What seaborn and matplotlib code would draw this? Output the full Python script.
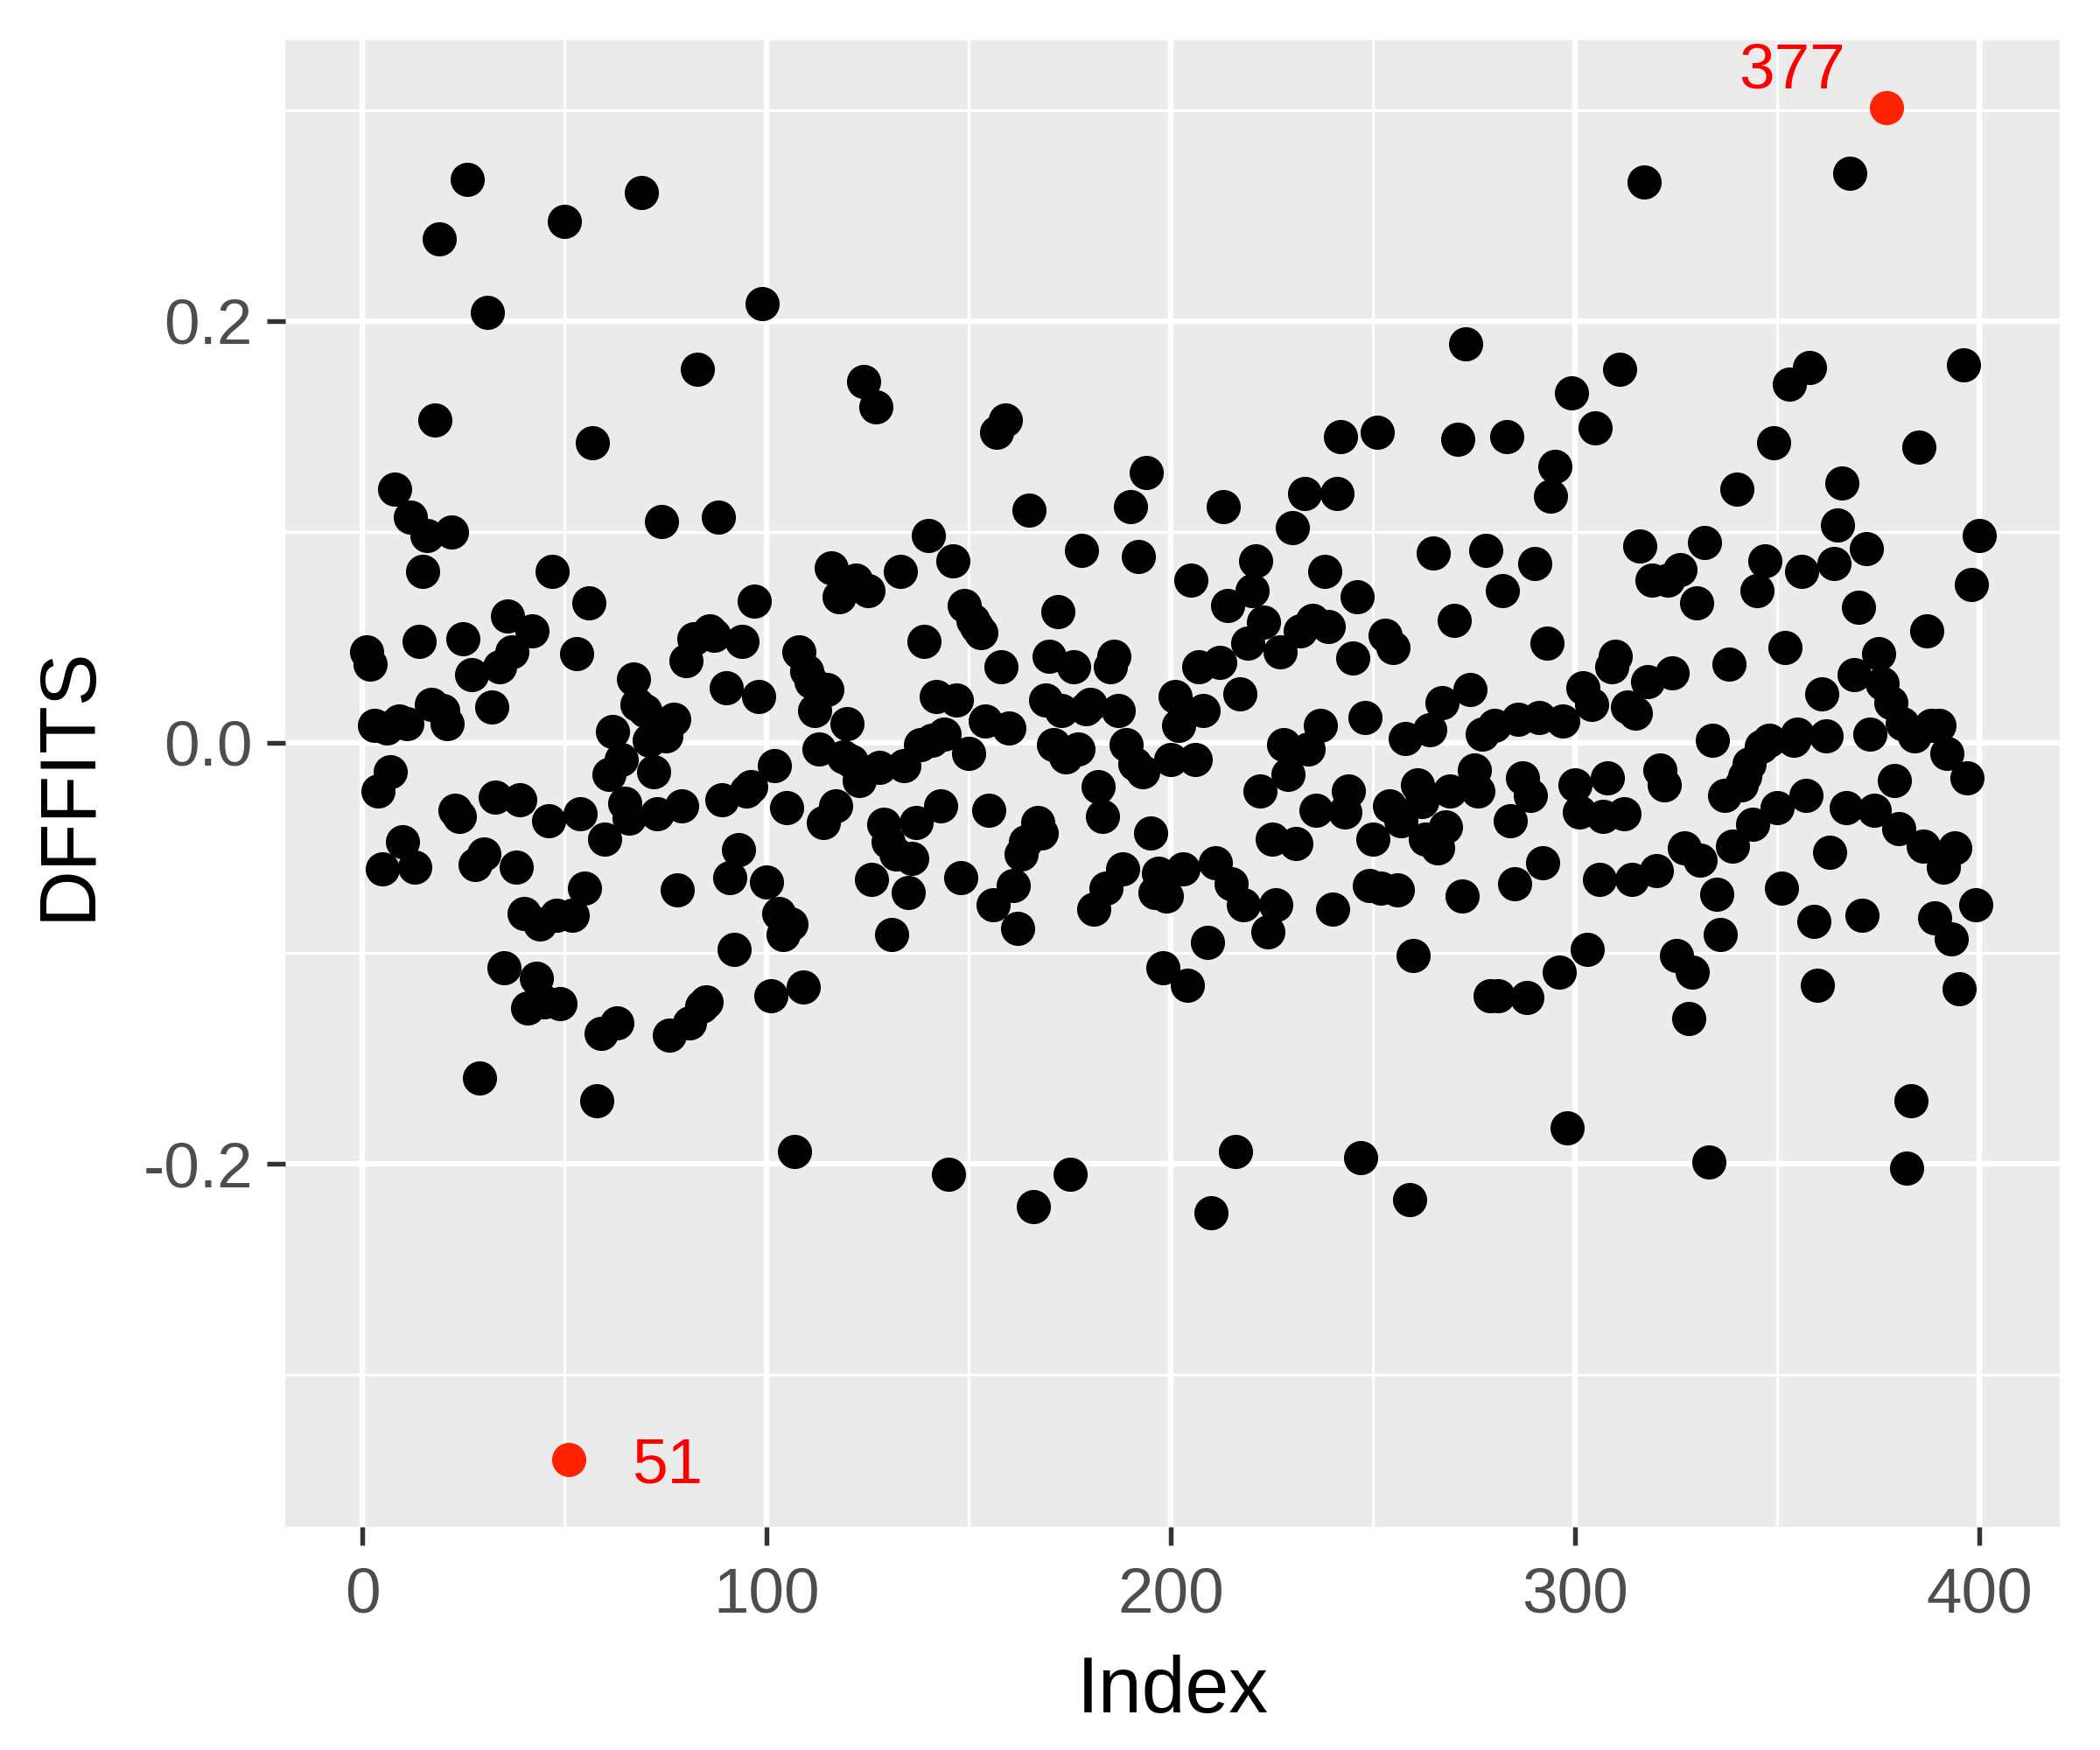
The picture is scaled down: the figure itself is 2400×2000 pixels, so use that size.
import seaborn as sns
import matplotlib.pyplot as plt
import matplotlib.ticker as mticker
import numpy as np
import pandas as pd

dffits = [
    0.043, 0.037, 0.008, -0.023, -0.060, 0.007, -0.014, 0.120, 0.010, -0.047,      # 1-10
    0.009, 0.107, -0.059, 0.048, 0.081, 0.098, 0.018, 0.153, 0.239, 0.015,        # 11-20
    0.009, 0.100, -0.032, -0.035, 0.049, 0.267, 0.032, -0.058, -0.159, -0.053,     # 21-30
    0.204, 0.017, -0.026, 0.036, -0.107, 0.060, 0.043, -0.059, -0.027, -0.081,    # 31-40
    -0.126, 0.053, -0.112, -0.086, -0.123, -0.037, 0.081, -0.082, -0.124, 0.247,  # 41-50
    -0.340, -0.082, 0.042, -0.034, -0.069, 0.066, 0.142, -0.170, -0.138, -0.046,  # 51-60
    -0.015, 0.005, -0.133, -0.008, -0.029, -0.036, 0.030, 0.018, 0.261, 0.015,    # 61-70
    0.001, -0.014, -0.034, 0.105, 0.003, -0.139, 0.011, -0.070, -0.030, 0.039,    # 71-80
    -0.133, 0.049, 0.177, -0.125, -0.123, 0.053, 0.051, 0.107, -0.027, 0.026,     # 81-90
    -0.064, -0.098, -0.051, 0.048, -0.023, -0.021, 0.067, 0.022, 0.208, -0.066,   # 91-100
    -0.120, -0.011, -0.081, -0.091, -0.031, -0.086, -0.194, 0.043, -0.116, 0.034, # 101-110
    0.029, 0.015, -0.003, -0.038, 0.025, 0.083, -0.030, 0.069, -0.007, 0.009,     # 111-120
    -0.009, 0.077, -0.018, 0.171, 0.072, -0.065, 0.159, -0.012, -0.039, -0.047,   # 121-130
    -0.091, -0.053, 0.081, -0.011, -0.071, -0.055, -0.038, -0.001, 0.048, 0.098,  # 131-140
    0.001, 0.022, -0.030, 0.004, -0.205, 0.086, 0.020, -0.064, 0.065, -0.005,     # 141-150
    0.058, 0.055, 0.052, 0.010, -0.032, -0.077, 0.147, 0.036, 0.153, 0.007,       # 151-160
    -0.068, -0.088, -0.053, -0.047, 0.110, -0.220, -0.038, -0.043, 0.020, 0.041,  # 161-170
    -0.001, 0.062, 0.015, -0.007, -0.205, 0.036, -0.003, 0.091, 0.016, 0.018,     # 171-180
    -0.079, -0.021, -0.035, -0.069, 0.036, 0.041, 0.015, -0.060, -0.001, 0.112,   # 181-190
    -0.010, 0.088, -0.014, 0.128, -0.043, -0.071, -0.062, -0.107, -0.073, -0.008, # 191-200
    0.022, 0.008, -0.060, -0.115, 0.077, -0.008, 0.036, 0.015, -0.095, -0.223,    # 201-210
    -0.057, 0.038, 0.112, 0.065, -0.067, -0.194, 0.023, -0.077, 0.047, 0.072,     # 211-220
    0.086, -0.023, 0.057, -0.090, -0.046, -0.077, 0.043, -0.001, -0.015, 0.102,   # 221-230
    -0.048, 0.053, 0.118, -0.003, 0.058, -0.032, 0.008, 0.081, 0.055, -0.079,     # 231-240
    0.118, 0.145, -0.033, -0.023, 0.040, 0.069, -0.197, 0.012, -0.068, -0.046,    # 241-250
    0.147, -0.069, 0.051, -0.030, 0.045, -0.070, -0.037, 0.002, -0.217, -0.101,   # 251-260
    -0.020, -0.028, -0.046, 0.006, 0.090, -0.050, 0.019, -0.040, -0.023, 0.058,   # 261-270
    0.144, -0.073, 0.189, 0.025, -0.013, -0.023, 0.004, 0.091, -0.120, 0.008,     # 271-280
    -0.120, 0.072, 0.145, -0.037, -0.067, 0.011, -0.017, -0.121, -0.025, 0.085,   # 281-290
    0.012, -0.057, 0.047, 0.117, 0.131, -0.109, 0.010, -0.183, 0.166, -0.020,     # 291-300
    -0.033, 0.026, -0.098, 0.018, 0.149, -0.065, -0.035, -0.017, 0.036, 0.041,    # 301-310
    0.177, -0.034, 0.017, -0.065, 0.014, 0.093, 0.266, 0.029, 0.077, -0.061,      # 311-320
    -0.013, -0.020, 0.077, 0.033, -0.101, 0.082, -0.050, -0.131, -0.109, 0.066,   # 321-330
    -0.056, 0.095, -0.199, 0.001, -0.072, -0.091, -0.025, 0.037, -0.049, 0.120,   # 331-340
    -0.020, -0.016, -0.010, -0.039, 0.072, -0.002, 0.086, 0.001, 0.142, -0.031,   # 341-350
    -0.069, 0.045, 0.170, 0.001, 0.004, 0.081, -0.025, 0.178, -0.085, -0.115,     # 351-360
    0.023, 0.003, -0.052, 0.085, 0.103, 0.123, -0.031, 0.270, 0.032, 0.064,       # 361-370
    -0.082, 0.092, 0.004, -0.032, 0.042, 0.028, 0.301, 0.019, -0.018, -0.041,     # 371-380
    0.009, -0.202, -0.170, 0.003, 0.140, -0.049, 0.053, 0.008, -0.083, 0.008,     # 381-390
    -0.059, -0.005, -0.093, -0.050, -0.117, 0.179, -0.017, 0.075, -0.077, 0.098,  # 391-400
]
index = np.arange(1, len(dffits) + 1)

# observations flagged in red, with their label offsets (points)
flagged = [51, 377]
label_offset = {51: (27, -2), 377: (-26, 10)}

df = pd.DataFrame({'Index': index, 'DFFITS': dffits})
df['flag'] = df['Index'].isin(flagged)

sns.set_theme(style='darkgrid', rc={
    'axes.facecolor': '#EBEBEB',
    'figure.facecolor': 'white',
    'grid.color': 'white',
    'axes.unicode_minus': False,
})
plt.rcParams['font.family'] = ['Liberation Sans', 'DejaVu Sans']

fig, ax = plt.subplots(figsize=(8, 20 / 3), dpi=300)
fig.subplots_adjust(left=0.136, right=0.981, top=0.977, bottom=0.1275)

sns.scatterplot(data=df[~df['flag']], x='Index', y='DFFITS', color='black',
                s=88, linewidth=0, ax=ax, zorder=3)
sns.scatterplot(data=df[df['flag']], x='Index', y='DFFITS', color='#ff2200',
                s=88, linewidth=0, ax=ax, zorder=3)

for _, r in df[df['flag']].iterrows():
    ax.annotate(str(r['Index']), (r['Index'], r['DFFITS']),
                xytext=label_offset[r['Index']], textcoords='offset points',
                ha='center', va='center', color='red', fontsize=17.5)

# ggplot-like 5% expansion
xlo, xhi = index.min(), index.max()
ylo, yhi = min(dffits), max(dffits)
ax.set_xlim(xlo - 0.05 * (xhi - xlo), xhi + 0.05 * (xhi - xlo))
ax.set_ylim(ylo - 0.05 * (yhi - ylo), yhi + 0.05 * (yhi - ylo))

ax.set_xticks([0, 100, 200, 300, 400])
ax.set_xticks([50, 150, 250, 350], minor=True)
ax.set_yticks([-0.2, 0.0, 0.2])
ax.set_yticks([-0.3, -0.1, 0.1, 0.3], minor=True)
ax.yaxis.set_major_formatter(mticker.FormatStrFormatter('%.1f'))

ax.grid(which='major', color='white', linewidth=1.5)
ax.grid(which='minor', color='white', linewidth=0.75)
ax.set_axisbelow(True)
for sp in ax.spines.values():
    sp.set_visible(False)

ax.tick_params(which='major', length=5, width=1.3, color='#333333',
               labelsize=17.5, labelcolor='#4D4D4D', pad=4,
               bottom=True, left=True)
ax.tick_params(axis='x', which='major', pad=6)
ax.tick_params(which='minor', length=0)

ax.set_xlabel('Index', fontsize=21.5, color='black', labelpad=8)
ax.set_ylabel('DFFITS', fontsize=21.5, color='black', labelpad=10)

fig.savefig('out.png', dpi=300)
